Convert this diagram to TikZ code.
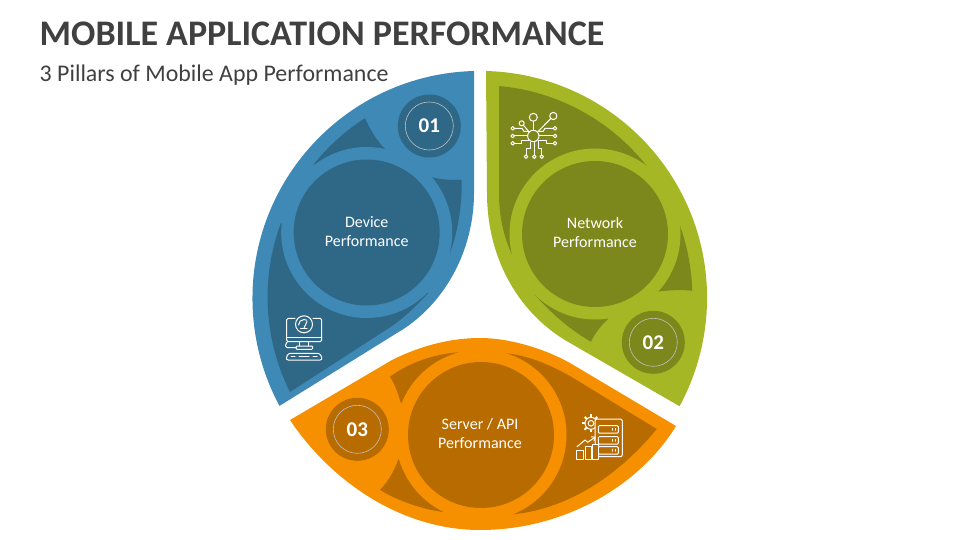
\documentclass[tikz,border=0pt]{standalone}
\usepackage{fontspec}
\setmainfont{Carlito}
\usetikzlibrary{arrows.meta}
\definecolor{bluel}{HTML}{3F89B6}
\definecolor{blued}{HTML}{2F6787}
\definecolor{greenl}{HTML}{A6B726}
\definecolor{greend}{HTML}{7D881C}
\definecolor{orangel}{HTML}{F79000}
\definecolor{oranged}{HTML}{B86C00}
\definecolor{titlegray}{HTML}{404040}
\tikzset{
 disc/.style={circle,inner sep=0pt,minimum size=146pt},
 ringdisc/.style={circle,inner sep=0pt,minimum size=171pt},
 badge/.style={circle,inner sep=0pt,minimum size=63pt},
 badgein/.style={circle,inner sep=0pt,minimum size=48pt,draw=white!75!black,line width=0.6pt,text=white,font=\bfseries\fontsize{21}{23}\selectfont},
 lab/.style={text=white,font=\fontsize{16}{18}\selectfont,inner sep=0pt},
 icon/.style={draw=white,line width=1pt,line join=round,line cap=round},
}
\begin{document}
\begin{tikzpicture}[x=1pt,y=-1pt]
\useasboundingbox (0,0) rectangle (960,540);
\node[anchor=base west,inner sep=0pt,text=titlegray,font=\bfseries\fontsize{36}{40}\selectfont] (title) at (39.5,46) {MOBILE APPLICATION PERFORMANCE};
\node[anchor=base west,inner sep=0pt,text=titlegray,font=\fontsize{23.9}{26}\selectfont] (sub) at (39.5,81.5) {3 Pillars of Mobile App Performance};
% ---- blue
\fill[bluel] (474,71) arc[start angle=91.5,end angle=208.2,radius=227.5pt] -- (397,333) .. controls (445,305) and (474,250) .. (474,193) -- cycle;
\fill[blued] (290,392) arc[start angle=206.6,end angle=159.6,radius=212pt] -- (366,232) -- (428,293.3) .. controls (416,306) and (405,317) .. (392,326) -- cycle;
\fill[blued] (314,164) arc[start angle=141.3,end angle=122.7,radius=212pt] .. controls (370,129) and (376,140) .. (385,149) -- (366,232) -- cycle;
\fill[blued] (432.7,177.3) .. controls (442,180) and (452,180) .. (461.7,180) .. controls (462,205) and (458,232) .. (450,252.7) -- (366,232) -- cycle;
\node[ringdisc,fill=bluel] (r1) at (366.7,232.5) {};
\node[disc,fill=blued] (c1) at (366.7,232.5) {};
\node[lab] (t1a) at (366.7,221.7) {Device};
\node[lab] (t1b) at (366.7,240.7) {Performance};
\node[badge,fill=blued] (b1) at (429.3,126) {};
\node[badgein] (n1) at (b1) {01};
% ---- green
\fill[greenl] (486,71) arc[start angle=88.5,end angle=-28.5,radius=227pt] -- (570,343) .. controls (520,315) and (487,260) .. (487,193) -- cycle;
\fill[greend] (499,86) arc[start angle=84.9,end angle=38.2,radius=212pt] -- (595,234) -- (511.7,254) .. controls (503,235) and (499,215) .. (499,193) -- cycle;
\fill[greend] (680,225.7) arc[start angle=19.6,end angle=1.7,radius=213pt] .. controls (682,289.5) and (670,290) .. (657.3,291.7) -- (595,234) -- cycle;
\fill[greend] (535,295) .. controls (550,312) and (570,330) .. (591,341.7) .. controls (596,331) and (602,325) .. (608.3,318.7) -- (595,234) -- cycle;
\node[ringdisc,fill=greenl] (r2) at (595,234) {};
\node[disc,fill=greend] (c2) at (595,234) {};
\node[lab] (t2a) at (595,222.7) {Network};
\node[lab] (t2b) at (595,241.7) {Performance};
\node[badge,fill=greend] (b2) at (653.3,342.3) {};
\node[badgein] (n2) at (b2) {02};
% ---- orange
\fill[orangel] (290,420) .. controls (330,480) and (400,530) .. (480,530) .. controls (565,530) and (640,485) .. (676,426) -- (570,363) .. controls (545,349) and (510,338) .. (480,338) .. controls (450,338) and (420,346) .. (392,360) -- cycle;
\fill[oranged] (400.7,402.7) .. controls (398,393) and (395,385) .. (390,376.7) .. controls (410,362) and (435,354) .. (458.3,352.3) -- (481,435) -- cycle;
\fill[oranged] (506.7,353.3) .. controls (530,356) and (550,365) .. (570,376) -- (656.7,429) .. controls (625,468) and (575,508) .. (513.3,514.3) -- (481,435) -- cycle;
\fill[oranged] (398.3,459.3) .. controls (394,472) and (388,481) .. (380,490) .. controls (400,502) and (425,510) .. (445.7,512.3) -- (481,435) -- cycle;
\node[ringdisc,fill=orangel] (r3) at (481,435) {};
\node[disc,fill=oranged] (c3) at (481,435) {};
\node[lab] (t3a) at (480,424) {Server / API};
\node[lab] (t3b) at (480,442.7) {Performance};
\node[badge,fill=oranged] (b3) at (357.3,429.3) {};
\node[badgein] (n3) at (b3) {03};
% ---- network icon
\begin{scope}[icon]
\draw (533.3,136) circle[radius=5.7pt];
\draw (533.3,117.3) circle[radius=4pt];
\draw (553.3,116) circle[radius=3.6pt];
\draw (521.7,123.3) circle[radius=2.5pt];
\draw (533.3,121.3) -- (533.3,130.3);
\draw (550.8,118.6) -- (537.5,132);
\draw (523.4,125.2) -- (529.2,132);
\foreach \yy in {128.3,136,143.3}{
 \draw (512.7,\yy) circle[radius=1.8pt];
 \draw (555,\yy) circle[radius=1.8pt];
}
\foreach \xx in {526,534.3,541.7}
 \draw (\xx,156.7) circle[radius=1.8pt];
\draw (514.5,128.3) -- (522,128.3) -- (524,131.5) -- (528.5,131.5);
\draw (514.5,136) -- (527.6,136);
\draw (514.5,143.3) -- (521,143.3) -- (521,140.5) -- (528.5,140.5);
\draw (553.2,128.3) -- (545,128.3) -- (543,131.5) -- (538.5,131.5);
\draw (553.2,136) -- (539,136);
\draw (553.2,143.3) -- (546,143.3) -- (546,140.5) -- (538.5,140.5);
\draw (526,154.9) -- (526,148.5) -- (530,148.5) -- (530,142);
\draw (534.3,154.9) -- (534.3,141.7);
\draw (541.7,154.9) -- (541.7,148.5) -- (538,148.5) -- (538,141);
\end{scope}
% ---- computer icon
\begin{scope}[icon]
\draw[rounded corners=1.5pt] (295,318.3) -- (286.7,318.3) -- (286.7,341.7) -- (321.7,341.7) -- (321.7,318.3) -- (313,318.3);
\draw (286.7,337.3) -- (321.7,337.3);
\draw (304,324.3) circle[radius=8.5pt];
\draw (298.5,325) arc[start angle=180,end angle=60,radius=5.5pt];
\draw (304,328) -- (307,321.5);
\draw (300.5,328.5) -- (307,328.5);
\draw (299.3,341.7) -- (299.3,346) (308.3,341.7) -- (308.3,346);
\draw[rounded corners=1pt] (296,346) rectangle (312.7,349.3);
\draw[rounded corners=1.5pt] (287.5,341.7) -- (285.5,344) -- (285.5,347.5) -- (296,347.5);
\draw[rounded corners=2.5pt] (288,353.3) -- (320,353.3) -- (322.7,360) -- (285.7,360) -- cycle;
\draw (291,356.7) -- (295,356.7) (299,356.7) -- (309,356.7) (313,356.7) -- (317,356.7);
\end{scope}
% ---- server icon
\begin{scope}[icon]
\draw (591,423.3) circle[radius=6pt];
\draw (591,423.3) circle[radius=2.8pt];
\foreach \aa in {0,45,...,315}
 \draw[line width=2pt,line cap=butt,shift={(591,423.3)}] (\aa:5.8) -- (\aa:9);
\draw[fill=oranged,rounded corners=2pt] (595,419) rectangle (622.3,456.7);
\foreach \yy in {425.7,436.7,446.7}{
 \draw[rounded corners=1pt] (598.3,\yy) rectangle (618.3,\yy+7.5);
 \draw[line width=.8pt] (612,\yy+2.6) -- (612,\yy+4.6) (615,\yy+2.6) -- (615,\yy+4.6);
}
\draw[fill=oranged] (576.7,450) rectangle (583.3,459);
\draw[fill=oranged] (585,446.7) rectangle (591.7,459);
\draw[fill=oranged] (592.3,444.3) rectangle (598.3,459);
\draw[-{Straight Barb[length=3pt,width=5pt]}] (577,446.7) -- (585,440) -- (587.7,442.3) -- (595.7,436.7);
\end{scope}
\end{tikzpicture}
\end{document}
